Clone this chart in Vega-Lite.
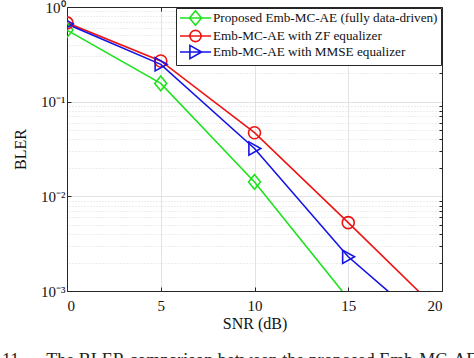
{
  "$schema": "https://vega.github.io/schema/vega-lite/v6.json",
  "width": 375,
  "height": 284,
  "autosize": {"type": "none"},
  "padding": {"left": 67, "top": 7, "right": 32, "bottom": 67},
  "background": "white",
  "title": {
    "text": "11\u00a0\u00a0\u00a0\u00a0\u00a0\u00a0The BLER comparison between the proposed Emb-MC-AE",
    "orient": "bottom",
    "anchor": "start",
    "frame": "group",
    "dx": -65,
    "offset": 21,
    "font": "Liberation Serif",
    "fontSize": 18,
    "fontWeight": "normal",
    "color": "#222222"
  },
  "data": {
    "values": [
      {"series": "Proposed Emb-MC-AE (fully data-driven)", "snr": 0, "bler": 0.57},
      {"series": "Proposed Emb-MC-AE (fully data-driven)", "snr": 5, "bler": 0.156},
      {"series": "Proposed Emb-MC-AE (fully data-driven)", "snr": 10, "bler": 0.0142},
      {"series": "Proposed Emb-MC-AE (fully data-driven)", "snr": 15, "bler": 0.00083},
      {"series": "Emb-MC-AE with ZF equalizer", "snr": 0, "bler": 0.68},
      {"series": "Emb-MC-AE with ZF equalizer", "snr": 5, "bler": 0.269},
      {"series": "Emb-MC-AE with ZF equalizer", "snr": 10, "bler": 0.047},
      {"series": "Emb-MC-AE with ZF equalizer", "snr": 15, "bler": 0.00527},
      {"series": "Emb-MC-AE with ZF equalizer", "snr": 20, "bler": 0.00057},
      {"series": "Emb-MC-AE with MMSE equalizer", "snr": 0, "bler": 0.66},
      {"series": "Emb-MC-AE with MMSE equalizer", "snr": 5, "bler": 0.248},
      {"series": "Emb-MC-AE with MMSE equalizer", "snr": 10, "bler": 0.032},
      {"series": "Emb-MC-AE with MMSE equalizer", "snr": 15, "bler": 0.0023},
      {"series": "Emb-MC-AE with MMSE equalizer", "snr": 20, "bler": 0.00032}
    ]
  },
  "layer": [
    {
      "mark": {"type": "line", "clip": true, "strokeWidth": 1.6},
      "encoding": {
        "x": {
          "field": "snr", "type": "quantitative",
          "scale": {"domain": [0, 20], "nice": false, "zero": false},
          "axis": {
            "orient": "bottom", "values": [0, 5, 10, 15, 20], "title": "SNR (dB)",
            "grid": true, "gridColor": "#dcdcdc", "gridWidth": 0.8,
            "tickSize": -4, "labelPadding": 11, "titlePadding": 2
          }
        },
        "y": {
          "field": "bler", "type": "quantitative",
          "scale": {"type": "log", "domain": [0.001, 1], "nice": false},
          "axis": {
            "orient": "left", "values": [0.001, 0.01, 0.1, 1], "title": "BLER",
            "labelExpr": "datum.value >= 0.5 ? '10⁰' : datum.value >= 0.05 ? '10⁻¹' : datum.value >= 0.005 ? '10⁻²' : '10⁻³'",
            "grid": true, "gridColor": "#dcdcdc", "gridWidth": 0.8,
            "tickSize": -4, "labelPadding": 6, "titlePadding": 12
          }
        },
        "color": {
          "field": "series", "type": "nominal",
          "scale": {
            "domain": ["Proposed Emb-MC-AE (fully data-driven)", "Emb-MC-AE with ZF equalizer", "Emb-MC-AE with MMSE equalizer"],
            "range": ["#1ee21e", "#ee1414", "#1414e6"]
          },
          "legend": null
        }
      }
    },
    {
      "transform": [{"filter": "datum.bler >= 0.001"}],
      "mark": {"type": "point", "clip": true, "filled": false, "strokeWidth": 1.6, "size": 196, "opacity": 1},
      "encoding": {
        "x": {
          "field": "snr", "type": "quantitative",
          "axis": {
            "orient": "top", "values": [0, 5, 10, 15, 20], "title": null,
            "labels": false, "grid": false, "tickSize": -4
          }
        },
        "y": {
          "field": "bler", "type": "quantitative",
          "axis": {
            "orient": "right", "title": null, "labels": false,
            "values": [0.002, 0.003, 0.004, 0.005, 0.006, 0.007, 0.008, 0.009, 0.02, 0.03, 0.04, 0.05, 0.06, 0.07, 0.08, 0.09, 0.2, 0.3, 0.4, 0.5, 0.6, 0.7, 0.8, 0.9],
            "grid": true, "gridColor": "#d0d0d0", "gridDash": [1, 2], "gridWidth": 0.8,
            "tickSize": -3
          }
        },
        "color": {
          "field": "series", "type": "nominal",
          "scale": {
            "domain": ["Proposed Emb-MC-AE (fully data-driven)", "Emb-MC-AE with ZF equalizer", "Emb-MC-AE with MMSE equalizer"],
            "range": ["#1ee21e", "#ee1414", "#1414e6"]
          },
          "legend": null
        },
        "shape": {
          "field": "series", "type": "nominal",
          "scale": {
            "domain": ["Proposed Emb-MC-AE (fully data-driven)", "Emb-MC-AE with ZF equalizer", "Emb-MC-AE with MMSE equalizer"],
            "range": [
              "M0,-1.05L0.85,0L0,1.05L-0.85,0Z",
              "M-0.857,0A0.857,0.857,0,1,1,0.857,0A0.857,0.857,0,1,1,-0.857,0Z",
              "M-0.8,-0.95L0.9,0L-0.8,0.95Z"
            ]
          },
          "legend": null
        }
      }
    },
    {
      "mark": {"type": "point", "clip": true, "filled": false, "strokeWidth": 1.6, "opacity": 0},
      "encoding": {
        "x": {"field": "snr", "type": "quantitative", "axis": null},
        "y": {"field": "bler", "type": "quantitative", "axis": null},
        "color": {
          "field": "series", "type": "nominal",
          "scale": {
            "domain": ["Proposed Emb-MC-AE (fully data-driven)", "Emb-MC-AE with ZF equalizer", "Emb-MC-AE with MMSE equalizer"],
            "range": ["#1ee21e", "#ee1414", "#1414e6"]
          },
          "legend": {"title": null}
        },
        "shape": {
          "field": "series", "type": "nominal",
          "scale": {
            "domain": ["Proposed Emb-MC-AE (fully data-driven)", "Emb-MC-AE with ZF equalizer", "Emb-MC-AE with MMSE equalizer"],
            "range": [
              "M-1,0H4.17M1.58,-1.2L2.58,0L1.58,1.2L0.58,0Z",
              "M-1,0H4.17M0.65,0A0.93,0.93,0,1,1,2.51,0A0.93,0.93,0,1,1,0.65,0Z",
              "M-1,0H4.17M0.65,-1.1L2.6,0L0.65,1.1Z"
            ]
          },
          "legend": {"title": null}
        }
      }
    }
  ],
  "resolve": {
    "axis": {"x": "independent", "y": "independent"},
    "scale": {"color": "independent", "shape": "independent"}
  },
  "config": {
    "view": {"stroke": null},
    "axis": {
      "domainColor": "#262626", "domainWidth": 1,
      "tickColor": "#262626", "tickWidth": 1,
      "labelColor": "#111111", "labelFont": "Liberation Serif", "labelFontSize": 15,
      "titleColor": "#111111", "titleFont": "Liberation Serif", "titleFontSize": 16, "titleFontWeight": "normal"
    },
    "legend": {
      "orient": "top-right", "offset": 1,
      "strokeColor": "#262626", "fillColor": "white", "padding": 3,
      "labelFont": "Liberation Serif", "labelFontSize": 13.2, "labelColor": "#111111",
      "labelLimit": 400, "labelOffset": 20,
      "symbolSize": 144, "symbolStrokeWidth": 1.6, "rowPadding": -3
    }
  }
}
